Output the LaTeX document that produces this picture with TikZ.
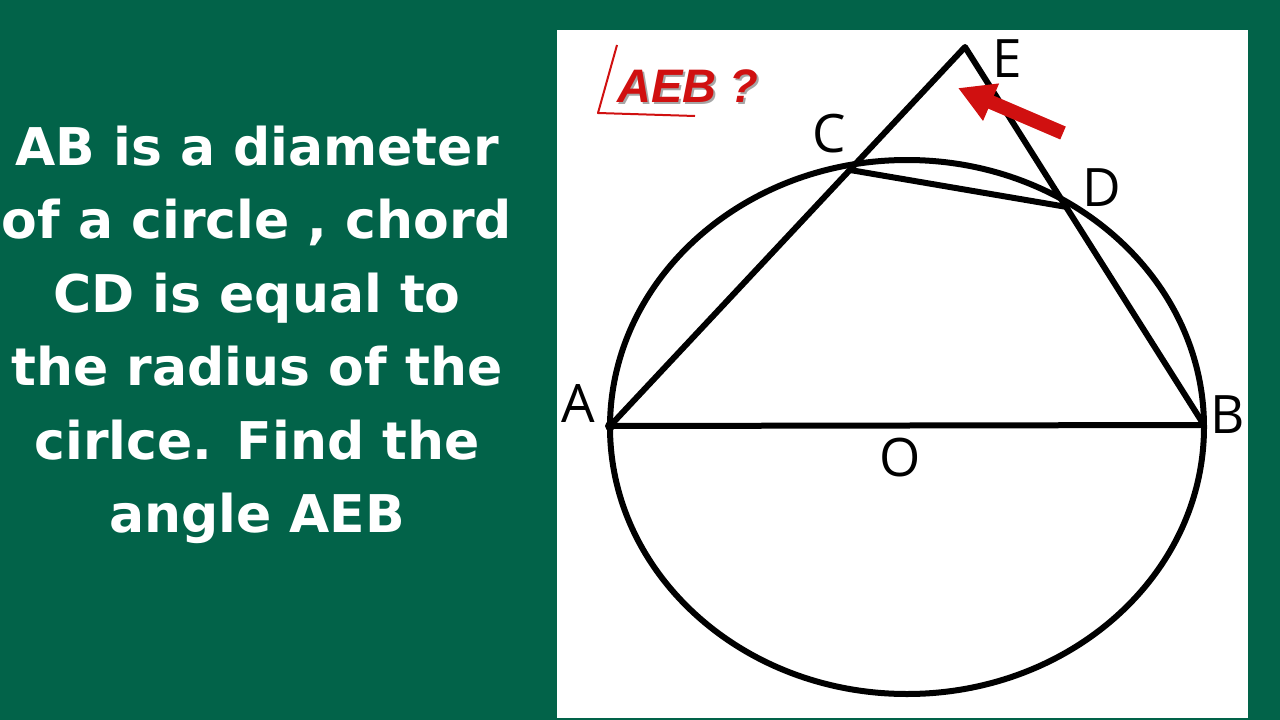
\documentclass[tikz,border=0pt]{standalone}
\usepackage{fontspec}
\setmainfont{Open Sans}
\newfontfamily\boardfont{DejaVu Sans}
\newfontfamily\tagfont{Liberation Sans}
\usetikzlibrary{arrows.meta}
\definecolor{board}{RGB}{2,99,73}
\definecolor{tagred}{RGB}{208,16,16}

\begin{document}
\begin{tikzpicture}[x=1pt,y=-1pt,line join=round,
  pt/.style={font=\fontsize{53}{60}\selectfont,anchor=base},
  qline/.style={font=\boardfont\bfseries\fontsize{52}{60}\selectfont,text=white,anchor=base}]
\useasboundingbox (0,0) rectangle (1280,720);
\fill[board] (0,0) rectangle (1280,720);
\fill[white] (557,30) rectangle (1248,718);
% question text
\node(q1)[qline] at (257,165){AB is a diameter};
\node(q2)[qline] at (257,238.5){of a circle , chord};
\node(q3)[qline] at (257,312){CD is equal to};
\node(q4)[qline] at (257,385.5){the radius of the};
\node(q5)[qline] at (257,459){cirlce. Find the};
\node(q6)[qline] at (257,532){angle AEB};
% points
\coordinate(A) at (610,426);
\coordinate(B) at (1204,425);
\coordinate(O) at (907,427);
\coordinate(C) at (850,170);
\coordinate(D) at (1067,207);
\coordinate(E) at (965,47);
\draw[line width=6] (O) ellipse [x radius=297,y radius=267];
\draw[line width=6] (A) -- (B);
\draw[line width=6] (A) -- (E) -- (B);
\draw[line width=6] (C) -- (D);
\fill (A) circle (5);
\node(la)[pt] at (578,422){A};
\node(lb)[pt] at (1228,433){B};
\node(lc)[pt] at (829,152){C};
\node(ld)[pt] at (1102,206){D};
\node(le)[pt] at (1007,77){E};
\node(lo)[pt] at (900,476){O};
% red tag
\draw[tagred,line width=2] (617,45) -- (598,113) -- (695,116);
\node(tagshadow)[anchor=base,text=black!35,font=\tagfont\bfseries\itshape\fontsize{47}{50}\selectfont] at (690,104){AEB ?};
\node(tag)[anchor=base,text=tagred,font=\tagfont\bfseries\itshape\fontsize{47}{50}\selectfont] at (688,102){AEB ?};
\coordinate(tail) at (1063,133);
\coordinate(tip) at (958,88);
\draw[tagred,line width=14,-{Triangle[length=36,width=38]}] (tail) -- (tip);
\end{tikzpicture}
\end{document}
